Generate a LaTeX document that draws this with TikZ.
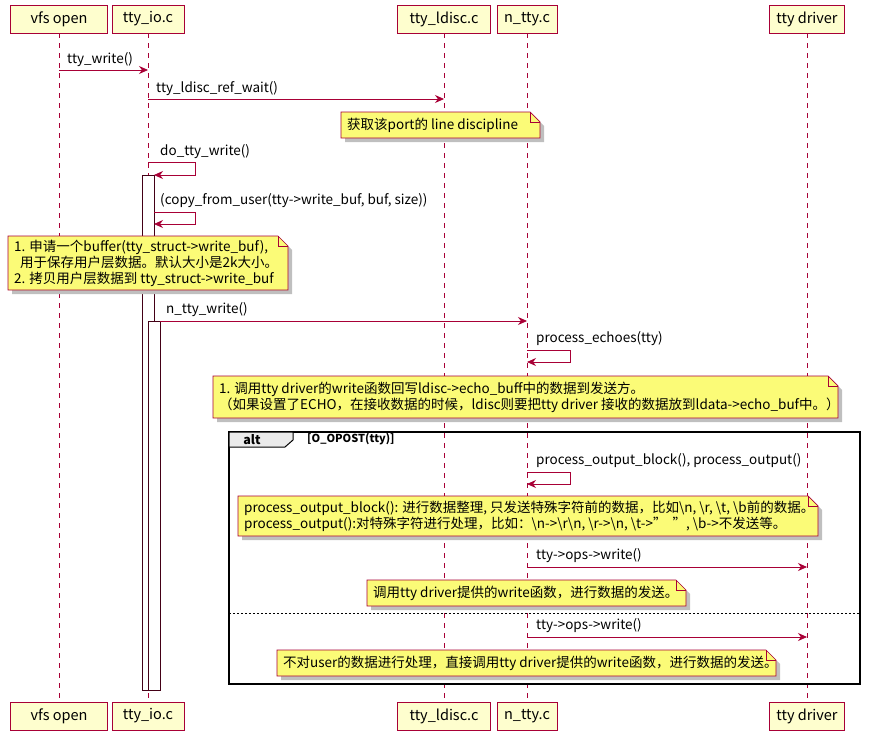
\documentclass[tikz,border=0pt]{standalone}
\usepackage{fontspec}
\setmainfont{Noto Sans CJK SC}
\usetikzlibrary{arrows.meta}
\definecolor{pb}{HTML}{A80036}
\definecolor{pf}{HTML}{FEFECE}
\definecolor{nf}{HTML}{FBFB77}
\tikzset{
 part/.style={draw=pb,fill=pf,line width=0.9pt,inner sep=0pt,minimum height=28pt,font=\fontsize{14.5}{16}\selectfont},
 life/.style={draw=pb,dash pattern=on 5pt off 5pt,line width=0.7pt},
 msg/.style={draw=pb,line width=0.8pt,-{Stealth[length=9pt,width=8pt]}},
 lbl/.style={font=\fontsize{13.5}{15}\selectfont,inner sep=0pt,anchor=south west},
 ntxt/.style={font=\fontsize{13.5}{16}\selectfont,inner sep=0pt,align=left,anchor=west},
 act/.style={draw=pb!40!black,fill=white,line width=0.7pt},
}
\newcommand{\mynote}[5]{% x1 y1 x2 y2 name
 \fill[black!25] (#1+4,#2+4) -- (#3-10+4,#2+4) -- (#3+4,#2+10+4) -- (#3+4,#4+4) -- (#1+4,#4+4) -- cycle;
 \draw[pb,fill=nf,line width=0.7pt] (#1,#2) -- (#3-10,#2) -- (#3,#2+10) -- (#3,#4) -- (#1,#4) -- cycle;
 \draw[pb,line width=0.7pt] (#3-10,#2) -- (#3-10,#2+10) -- (#3,#2+10);
 \coordinate (#5) at (#1+6,{(#2+#4)/2});
}
\begin{document}
\begin{tikzpicture}[x=1pt,y=-1pt]
\useasboundingbox (0,0) rectangle (885,744);
% lifelines
\foreach \x in {59,148,444,527,807} \draw[life] (\x,33) -- (\x,702);
% participants
\node[part,minimum width=97pt] (p1t) at (59,19) {vfs open};
\node[part,minimum width=72pt] (p2t) at (148,19) {tty\_io.c};
\node[part,minimum width=93pt] (p3t) at (444,19) {tty\_ldisc.c};
\node[part,minimum width=60pt] (p4t) at (527,19) {n\_tty.c};
\node[part,minimum width=75pt] (p5t) at (807,19) {tty driver};
\node[part,minimum width=97pt] (p1b) at (59,716) {vfs open};
\node[part,minimum width=72pt] (p2b) at (148,716) {tty\_io.c};
\node[part,minimum width=93pt] (p3b) at (444,716) {tty\_ldisc.c};
\node[part,minimum width=60pt] (p4b) at (527,716) {n\_tty.c};
\node[part,minimum width=75pt] (p5b) at (807,716) {tty driver};
% activation bars
\draw[act] (142,175) rectangle (154,690);
\draw[act] (148,321) rectangle (160,690);
% messages
\coordinate (a1) at (59,70); \coordinate (b1) at (148,70);
\draw[msg] (a1) -- (b1);
\node[lbl] (l1) at (67,67) {tty\_write()};
\coordinate (a2) at (148,99); \coordinate (b2) at (444,99);
\draw[msg] (a2) -- (b2);
\node[lbl] (l2) at (156,96) {tty\_ldisc\_ref\_wait()};
\mynote{341}{112}{540}{138}{n1}
\node[ntxt] (t1) at (n1) {获取该port的 line discipline};
% do_tty_write
\coordinate (a3) at (148,162); \coordinate (b3) at (154,175);
\draw[msg] (a3) -- (195,162) -- (195,175) -- (b3);
\node[lbl] (l3) at (160,159) {do\_tty\_write()};
% copy_from_user
\coordinate (a4) at (154,212); \coordinate (b4) at (154,224);
\draw[msg] (a4) -- (195,212) -- (195,224) -- (b4);
\node[lbl] (l4) at (160,208) {(copy\_from\_user(tty->write\_buf, buf, size))};
\mynote{8}{236}{288}{290}{n2}
\node[ntxt] (t2) at (n2) {1. 申请一个buffer(tty\_struct->write\_buf),\\\ \ 用于保存用户层数据。默认大小是2k大小。\\2. 拷贝用户层数据到 tty\_struct->write\_buf};
% n_tty_write
\coordinate (a5) at (160,321); \coordinate (b5) at (527,321);
\draw[msg] (a5) -- (b5);
\node[lbl] (l5) at (166,317) {n\_tty\_write()};
\coordinate (a6) at (527,350); \coordinate (b6) at (527,362);
\draw[msg] (a6) -- (570,350) -- (570,362) -- (b6);
\node[lbl] (l6) at (536,346) {process\_echoes(tty)};
\mynote{213}{376}{838}{418}{n3}
\node[ntxt] (t3) at (n3) {1. 调用tty driver的write函数回写ldisc->echo\_buff中的数据到发送方。\\（如果设置了ECHO，在接收数据的时候，ldisc则要把tty driver 接收的数据放到ldata->echo\_buf中。）};
% alt frame
\draw[black,line width=1.5pt] (229,432) rectangle (860,684);
\draw[black,line width=1pt,fill=white!92!black] (229,432) -- (293,432) -- (293,440) -- (285,447) -- (229,447) -- cycle;
\node[font=\bfseries\fontsize{12.5}{13}\selectfont,inner sep=0pt] (alt) at (252,440) {alt};
\node[font=\bfseries\fontsize{11}{12}\selectfont,inner sep=0pt,anchor=west] (cond) at (307,439) {[O\_OPOST(tty)]};
\coordinate (a7) at (527,472); \coordinate (b7) at (527,484);
\draw[msg] (a7) -- (570,472) -- (570,484) -- (b7);
\node[lbl] (l7) at (536,468) {process\_output\_block(), process\_output()};
\mynote{238}{496}{818}{536}{n4}
\node[ntxt] (t4) at (n4) {process\_output\_block(): 进行数据整理, 只发送特殊字符前的数据，比如\textbackslash n, \textbackslash r, \textbackslash t, \textbackslash b前的数据。\\process\_output():对特殊字符进行处理，比如：\textbackslash n->\textbackslash r\textbackslash n, \textbackslash r->\textbackslash n, \textbackslash t->" \ ", \textbackslash b->不发送等。};
\coordinate (a8) at (527,567); \coordinate (b8) at (807,567);
\draw[msg] (a8) -- (b8);
\node[lbl] (l8) at (536,563) {tty->ops->write()};
\mynote{367}{580}{686}{606}{n5}
\node[ntxt] (t5) at (n5) {调用tty driver提供的write函数，进行数据的发送。};
\draw[black,dash pattern=on 2pt off 2pt,line width=0.7pt] (229,613) -- (860,613);
\coordinate (a9) at (527,637); \coordinate (b9) at (807,637);
\draw[msg] (a9) -- (b9);
\node[lbl] (l9) at (536,633) {tty->ops->write()};
\mynote{277}{650}{776}{676}{n6}
\node[ntxt] (t6) at (n6) {不对user的数据进行处理，直接调用tty driver提供的write函数，进行数据的发送。};
\end{tikzpicture}
\end{document}
